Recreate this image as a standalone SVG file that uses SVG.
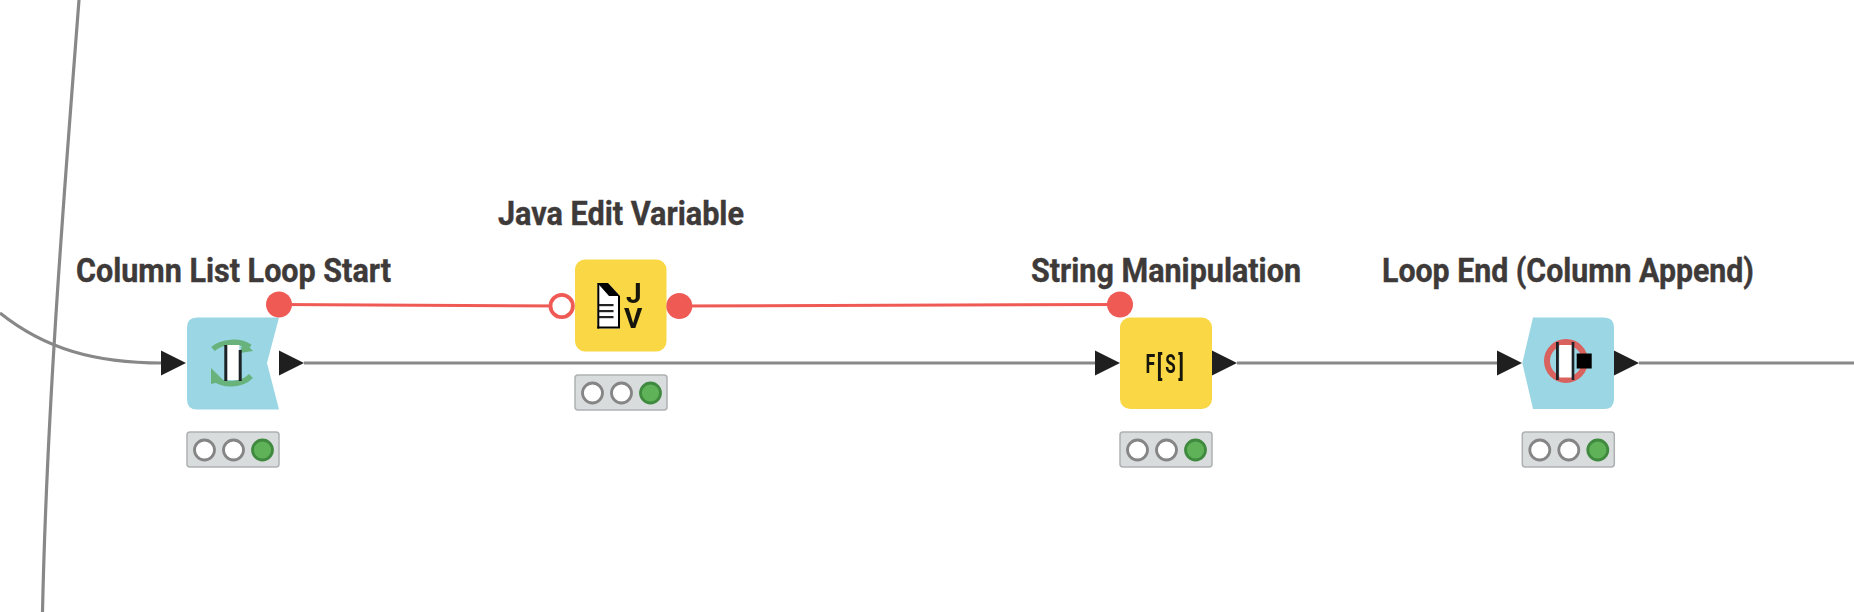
<svg xmlns="http://www.w3.org/2000/svg" width="1854" height="612" viewBox="0 0 1854 612">
<defs>
<style>
.lbl{font-family:"Roboto","Liberation Sans",sans-serif;font-weight:700;font-size:33px;fill:#3e3a39;stroke:#3e3a39;stroke-width:.4}
.wire{fill:none;stroke:#888;stroke-width:3.200}
.flow{fill:none;stroke:#ef5a55;stroke-width:3}
.tri{fill:#1f1f1f}
.blue{fill:#9ad6e3}
.yellow{fill:#fad745}
.var{fill:#ef5a55}
.bar{fill:#d8dcdd;stroke:#aeb1b2;stroke-width:1.5}
.off{fill:#fff;stroke:#858585;stroke-width:2.800}
.ok{fill:#5fb258;stroke:#3f8a3f;stroke-width:2.800}
.icon{font-family:"Roboto","Liberation Sans",sans-serif;font-weight:700;fill:#16140a}
</style>
<filter id="soft" x="-20%" y="-20%" width="140%" height="140%"><feGaussianBlur stdDeviation="0.5"/></filter>
<g id="status"><rect class="bar" x="0" y="0" width="92" height="35" rx="3"/><circle class="off" cx="17.500" cy="18" r="10"/><circle class="off" cx="46.500" cy="18" r="10"/><circle class="ok" cx="75.500" cy="18" r="10"/></g>
<polygon id="port" class="tri" points="0,-12.500 25,0 0,12.500"/>
</defs>
<rect width="1854" height="612" fill="#fff"/>
<g id="connectors">
<path class="wire" stroke-width="2.500" d="M79,0 C66,170 47,400 42.500,612"/>
<path class="wire" d="M0,313 C45,349 95,363 162,363"/>
<path class="wire" d="M304,363 H1095"/>
<path class="wire" d="M1237,363 H1497"/>
<path class="wire" d="M1639,363 H1854"/>
<path class="flow" d="M279,304.500 L562,306"/>
<path class="flow" d="M679,306 L1120,304.500"/>
</g>
<g id="node-column-list-loop-start">
<text class="lbl" x="76" y="281.700" textLength="315" lengthAdjust="spacingAndGlyphs">Column List Loop Start</text>
<path class="blue" d="M197,317.500 H279 L267,363 L279,409.500 H197 Q187,409.500 187,399.500 V327.500 Q187,317.500 197,317.500 Z"/>
<use href="#port" x="161" y="363"/>
<use href="#port" x="279" y="363"/>
<circle class="var" cx="279" cy="304.500" r="13"/>
<g filter="url(#soft)">
<path d="M213,349 C222,341 240,340 250,347 M251,376 C241,386 224,386 213,378" fill="none" stroke="#68b27c" stroke-width="5.500"/>
<polygon points="243,341 253,351 240,353" fill="#68b27c"/>
<polygon points="211,368 224,381 211,384" fill="#68b27c"/>
<rect x="226.700" y="345" width="12.600" height="35" fill="#fff"/>
<rect x="224.300" y="345" width="3" height="36" fill="#1c2226"/>
<rect x="238.700" y="350" width="3" height="31" fill="#1c2226"/>
</g>
<use href="#status" x="187" y="432"/>
</g>
<g id="node-java-edit-variable">
<text class="lbl" x="498" y="225" textLength="246" lengthAdjust="spacingAndGlyphs">Java Edit Variable</text>
<rect class="yellow" x="575" y="259.500" width="91.500" height="92" rx="10"/>
<circle cx="561.700" cy="306" r="11.200" fill="#fff" stroke="#ef5a55" stroke-width="3.800"/>
<circle class="var" cx="679.300" cy="306" r="13"/>
<g filter="url(#soft)">
<path d="M597.500,283 H608 L620,296 V328.500 H597.500 Z" fill="#fff"/>
<path d="M597.500,283 H608 L620,296 L609,296 Z" fill="#000"/>
<rect x="597.300" y="283" width="2" height="45.500" fill="#000"/>
<rect x="597.300" y="326.500" width="22.700" height="2" fill="#000"/>
<rect x="618" y="296" width="2" height="32" fill="#000"/>
<rect x="599" y="304" width="14.500" height="2.200" fill="#222"/>
<rect x="599" y="310" width="14.500" height="2.200" fill="#222"/>
<rect x="599" y="316" width="14.500" height="2.200" fill="#222"/>
<text class="icon" font-size="28"><tspan x="626" y="303">J</tspan><tspan x="624" y="328">V</tspan></text>
</g>
<use href="#status" x="575" y="375"/>
</g>
<g id="node-string-manipulation">
<text class="lbl" x="1031" y="281.700" textLength="270" lengthAdjust="spacingAndGlyphs">String Manipulation</text>
<rect class="yellow" x="1120" y="317.500" width="92" height="91.500" rx="10"/>
<use href="#port" x="1095" y="363"/>
<use href="#port" x="1212" y="363"/>
<circle class="var" cx="1120" cy="304.500" r="13"/>
<g filter="url(#soft)">
<text class="icon" transform="translate(1145.500,0) scale(.68,1)" font-size="26" y="373"><tspan x="0">F</tspan><tspan x="16.500" font-size="30" y="376">[</tspan><tspan x="29" font-size="25" y="373">S</tspan><tspan x="48" font-size="30" y="376">]</tspan></text>
</g>
<use href="#status" x="1120" y="432"/>
</g>
<g id="node-loop-end">
<text class="lbl" x="1382" y="281.700" textLength="372" lengthAdjust="spacingAndGlyphs">Loop End (Column Append)</text>
<path class="blue" d="M1533,317.500 H1604 Q1614,317.500 1614,327.500 V399 Q1614,409 1604,409 H1533 L1522.300,363 Z"/>
<use href="#port" x="1497" y="363"/>
<use href="#port" x="1614" y="363"/>
<g filter="url(#soft)">
<circle cx="1566" cy="361" r="19" fill="none" stroke="#d9625f" stroke-width="6"/>
<rect x="1559.300" y="345" width="12.500" height="32.500" fill="#fff"/>
<rect x="1556" y="342" width="2.800" height="38" fill="#1c2226"/>
<rect x="1571.700" y="342" width="2.600" height="38" fill="#1c2226"/>
<rect x="1576.700" y="353.500" width="15" height="15" fill="#000"/>
</g>
<use href="#status" x="1522.300" y="432"/>
</g>
</svg>
